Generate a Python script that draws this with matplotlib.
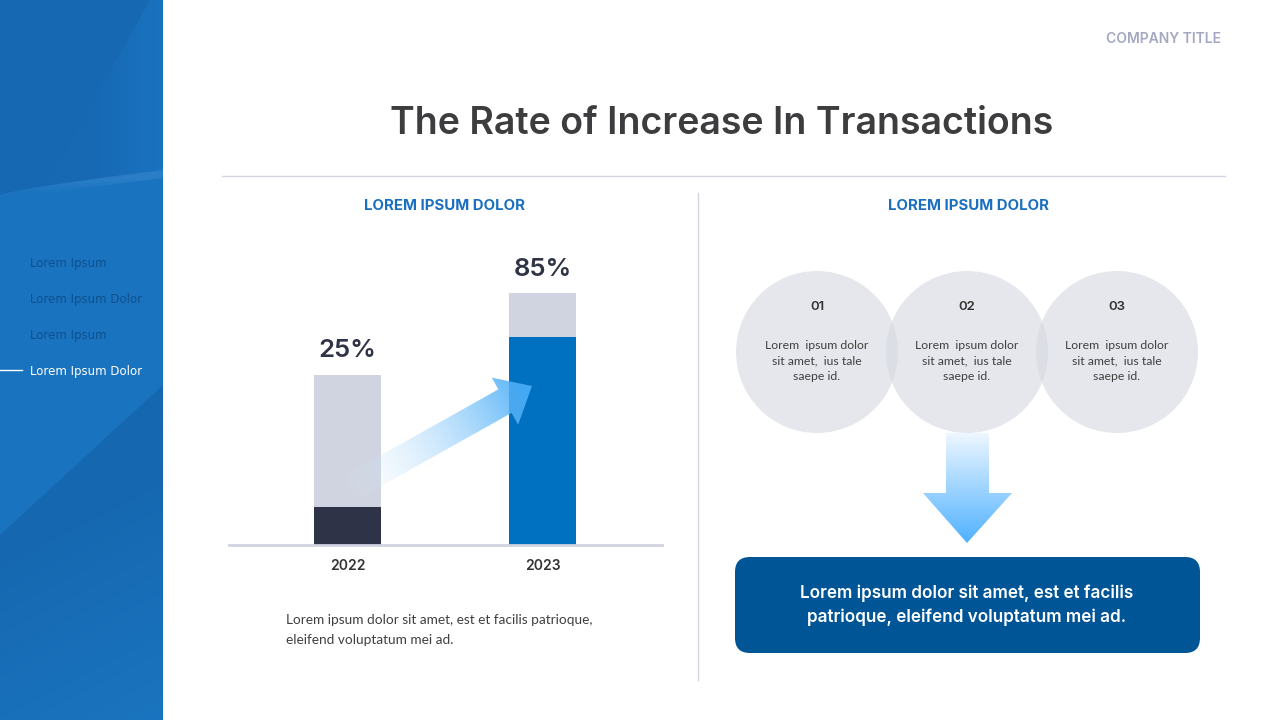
import matplotlib
matplotlib.use("Agg")
import matplotlib.pyplot as plt
from matplotlib.patches import Polygon, Circle, FancyBboxPatch
import numpy as np

# ---- data ----
years = ["2022", "2023"]
capacity = [67.5, 100.0]      # grey background bar height
filled = [15.0, 82.5]         # coloured part
rate_labels = ["25%", "85%"]
fill_colors = ["#2f3347", "#0070c0"]

menu_items = ["Lorem Ipsum", "Lorem Ipsum Dolor", "Lorem Ipsum", "Lorem Ipsum Dolor"]
active_item = 3
step_nums = ["01", "02", "03"]
step_text = "Lorem  ipsum dolor\nsit amet,  ius tale\nsaepe id."

HEAD = "Inter"
BODY = "Lato"

W, H = 1280, 720
fig = plt.figure(figsize=(12.8, 7.2), dpi=100)
fig.patch.set_facecolor("white")

# background axes in pixel coordinates
bg = fig.add_axes([0, 0, 1, 1], zorder=0)
bg.set_xlim(0, W)
bg.set_ylim(H, 0)
bg.axis("off")


def grad_fill(ax, pts, c0, c1, a0, a1, p0, p1, z=3):
    """fill polygon pts with a linear gradient from point p0 to p1"""
    pts = np.asarray(pts, float)
    x0, y0 = pts.min(0)
    x1, y1 = pts.max(0)
    xs = np.linspace(x0, x1, 200)
    ys = np.linspace(y0, y1, 200)
    X, Y = np.meshgrid(xs, ys)
    d = np.array(p1, float) - np.array(p0, float)
    t = ((X - p0[0]) * d[0] + (Y - p0[1]) * d[1]) / (d @ d)
    t = np.clip(t, 0, 1)[..., None]
    c0 = np.array(matplotlib.colors.to_rgb(c0))
    c1 = np.array(matplotlib.colors.to_rgb(c1))
    rgb = c0 * (1 - t) + c1 * t
    a = a0 * (1 - t) + a1 * t
    img = np.concatenate([rgb, a], axis=2)
    poly = Polygon(pts, closed=True, facecolor="none", edgecolor="none")
    ax.add_patch(poly)
    im = ax.imshow(img, extent=(x0, x1, y1, y0), origin="upper",
                   aspect="auto", zorder=z, interpolation="bilinear")
    im.set_clip_path(poly)
    ax.set_xlim(0, W)
    ax.set_ylim(H, 0)


# ---- sidebar ----
bg.add_patch(Polygon([(0, 0), (163, 0), (163, 720), (0, 720)], closed=True,
                     facecolor="#1a73bf", lw=0, zorder=1))
cx_curve = np.linspace(0, 163, 40)
cy_curve = 195 - 25 * (cx_curve / 163) ** 0.8
top_pts = [(0, 0), (163, 0)] + list(zip(cx_curve[::-1], cy_curve[::-1]))
bg.add_patch(Polygon(top_pts, closed=True, facecolor="#1768b3", lw=0, zorder=2))
grad_fill(bg, [(150, 0), (163, 0), (163, 171), (45, 186)],
          "#1769b4", "#1a73bf", 1.0, 1.0, (95, 120), (163, 120), z=2.1)
# light rim just under the curve
band = list(zip(cx_curve, cy_curve)) + list(zip(cx_curve[::-1], cy_curve[::-1] + 8))
grad_fill(bg, band, "#3a8ad0", "#1a73bf", 0.5, 0.0, (80, 180), (80, 200), z=2.2)
# darker diagonal region lower down
grad_fill(bg, [(0, 535), (163, 385), (163, 720), (0, 720)],
          "#1568b0", "#1b74bf", 1.0, 1.0, (60, 520), (163, 720), z=2)

for i, item in enumerate(menu_items):
    y = 263 + 36 * i
    col = "white" if i == active_item else "#0e508f"
    bg.text(30, y, item, fontsize=8.5, family="DejaVu Sans", color=col, va="center", zorder=5)
bg.plot([0, 22], [370, 370], color="white", lw=1, zorder=5)

# ---- header ----
bg.text(1221, 39, "COMPANY TITLE", fontsize=10, family=HEAD, weight="semibold",
        color="#a3a7c2", ha="right", va="center")
bg.text(722, 124, "The Rate of Increase In Transactions", fontsize=27, family=HEAD,
        weight="semibold", color="#3d3d3f", ha="center", va="center")
bg.plot([222, 1225], [176, 176], color="#d3d6e2", lw=1)
bg.plot([698, 698], [193, 680], color="#d3d6e2", lw=1)
for cx in (445, 968):
    bg.text(cx, 206, "LOREM IPSUM DOLOR", fontsize=10.8, family=HEAD, weight="bold",
            color="#1a6fc0", ha="center", va="center")

bg.text(286, 630, "Lorem ipsum dolor sit amet, est et facilis patrioque,\neleifend voluptatum mei ad.",
        fontsize=9.8, family=BODY, color="#404040", ha="left", va="center", linespacing=1.85)

# ---- bar chart ----
bx0, bx1, by_base, by_top = 229, 662, 545, 240
ax = fig.add_axes([bx0 / W, 1 - by_base / H, (bx1 - bx0) / W, (by_base - by_top) / H], zorder=1)
ax.patch.set_alpha(0)
x = np.arange(len(years))
ax.bar(x, capacity, width=0.344, color="#d0d4e0", zorder=1)
ax.bar(x, filled, width=0.344, color=fill_colors, zorder=2)
ax.set_xlim(-0.608, 1.613)
ax.set_ylim(0, (by_base - by_top) / 2.52)
for xi, cap, lab in zip(x, capacity, rate_labels):
    ax.annotate(lab, (xi, cap), xytext=(0, 9), textcoords="offset points",
                ha="center", va="bottom", fontsize=18.5, family=HEAD,
                weight="semibold", color="#2e3345")
for s in ("top", "right", "left"):
    ax.spines[s].set_visible(False)
ax.spines["bottom"].set_color("#d0d4e0")
ax.spines["bottom"].set_linewidth(2)
ax.set_yticks([])
ax.set_xticks(x)
ax.set_xticklabels(years, fontsize=10, family=HEAD, weight="semibold", color="#333333")
ax.tick_params(axis="x", length=0, pad=10)

# overlay axes for the gradient arrow on top of the bars
top = fig.add_axes([0, 0, 1, 1], zorder=2)
top.patch.set_alpha(0)
top.axis("off")
top.set_xlim(0, W)
top.set_ylim(H, 0)

p_start = np.array([350.0, 488.0])
p_tip = np.array([532.0, 386.0])
d = p_tip - p_start
u = d / np.hypot(*d)
n = np.array([-u[1], u[0]])
head_len, shaft_w, head_w = 31, 13.5, 27
base = p_tip - u * head_len
arrow_pts = [p_start + n * shaft_w, base + n * shaft_w, base + n * head_w, p_tip,
             base - n * head_w, base - n * shaft_w, p_start - n * shaft_w]
grad_fill(top, arrow_pts, "#e3f1fd", "#45acf8", 0.05, 0.95, p_start, p_tip)

# ---- right side: circles ----
for i, num in enumerate(step_nums):
    cx = 817 + 150 * i
    bg.add_patch(Circle((cx, 352), 81, facecolor="#d7d9e3", alpha=0.62, lw=0, zorder=3))
    bg.text(cx, 307, num, fontsize=9.5, family=HEAD, weight="semibold",
            color="#333333", ha="center", va="center", zorder=4)
    bg.text(cx, 361, step_text, fontsize=8.8, family=BODY, color="#404040",
            ha="center", va="center", linespacing=1.55, zorder=4)

# down arrow
down_pts = [(946, 433), (989, 433), (989, 493), (1012, 493), (967, 543), (923, 493), (946, 493)]
grad_fill(bg, down_pts, "#eef7ff", "#4fb1ff", 1.0, 1.0, (967, 433), (967, 543), z=3)

# bottom box
bg.add_patch(FancyBboxPatch((735 + 15, 557 + 15), 465 - 30, 96 - 30,
                            boxstyle="round,pad=15", facecolor="#005596",
                            edgecolor="none", zorder=3))
bg.text(967, 605, "Lorem ipsum dolor sit amet, est et facilis\npatrioque, eleifend voluptatum mei ad.",
        fontsize=12.3, family=HEAD, weight="semibold", color="white",
        ha="center", va="center", linespacing=1.5, zorder=4)

fig.savefig("out.png", dpi=100)
